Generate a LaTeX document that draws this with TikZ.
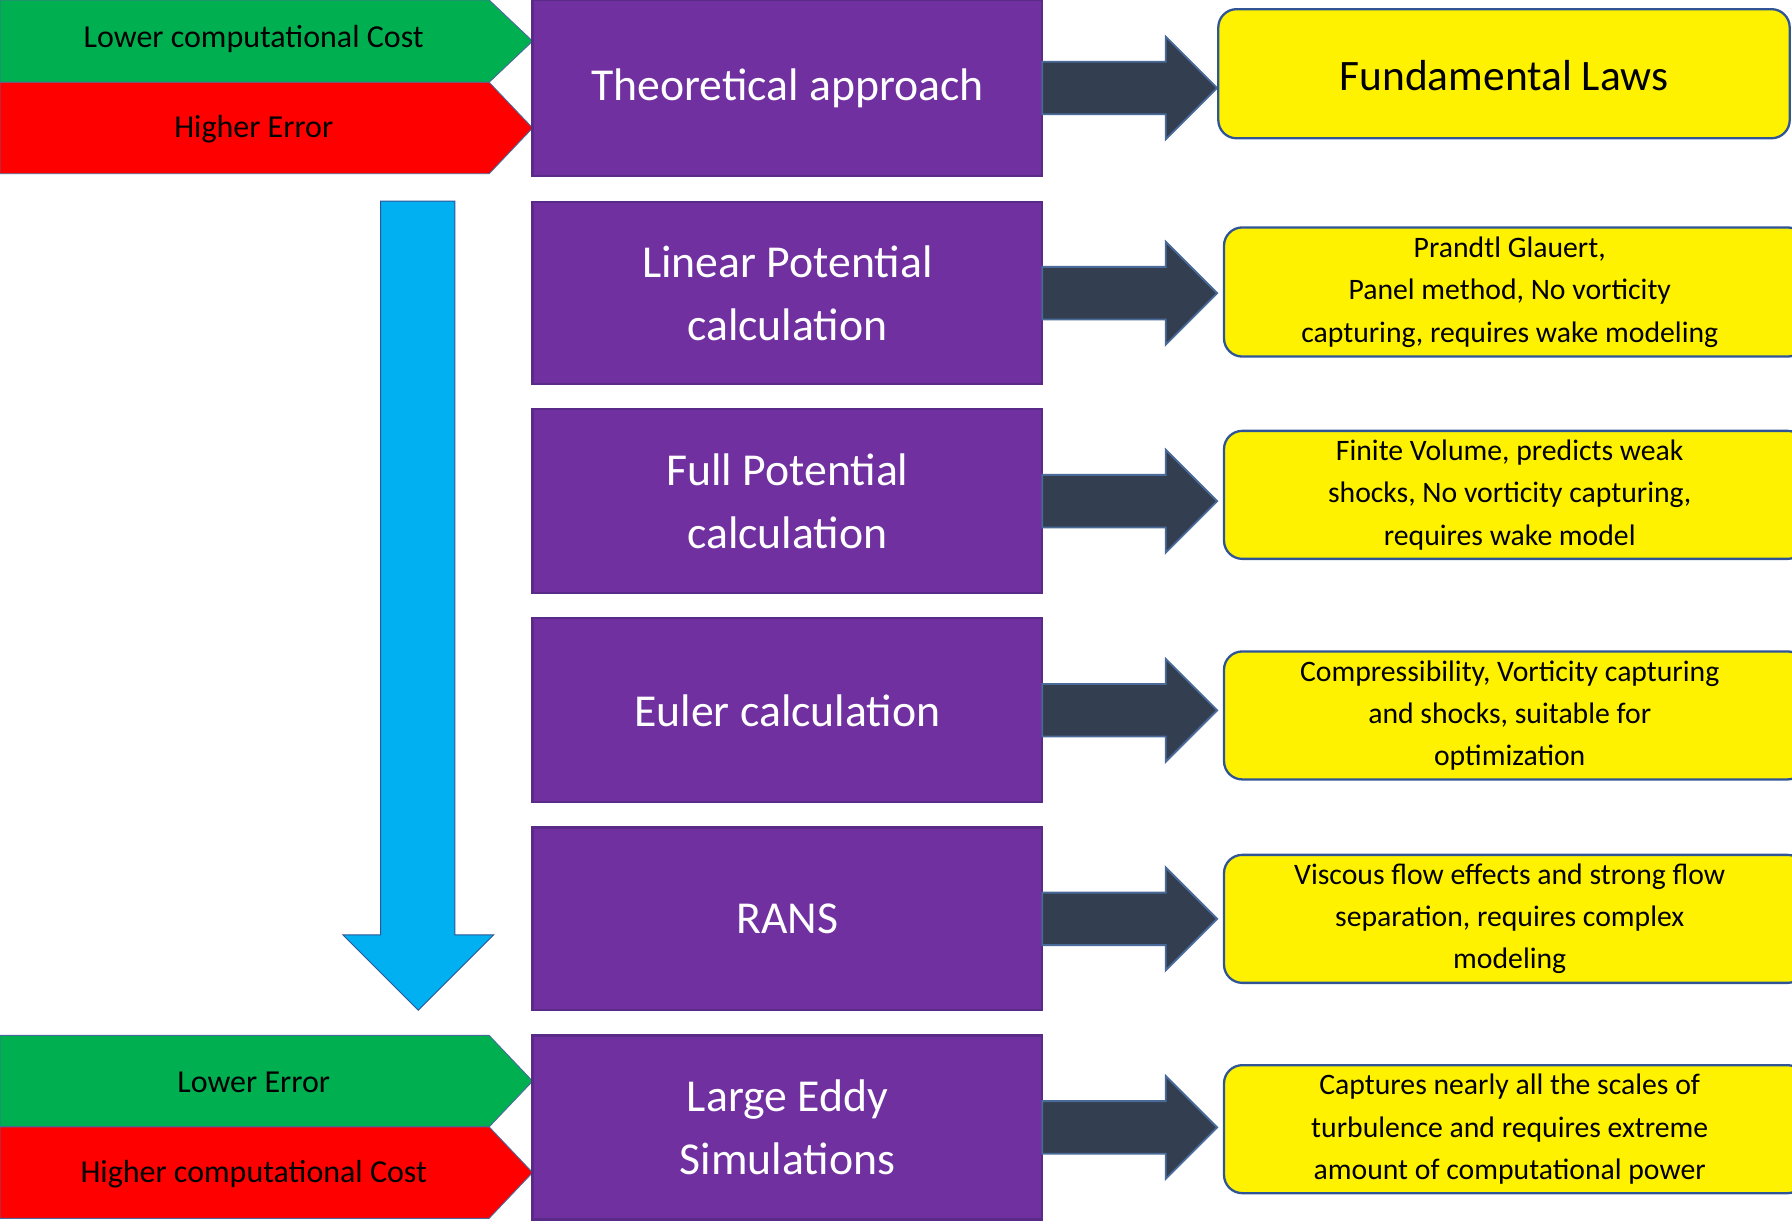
\documentclass[tikz,border=0pt]{standalone}
\usepackage{fontspec}
\setmainfont{Carlito}
\begin{document}
\begin{tikzpicture}[x=0.5pt,y=-0.5pt,
 purp/.style={fill=purp,draw=purpb,line width=1pt},
 yel/.style={fill=yellow,draw=yelb,line width=1pt,rounded corners=8pt},
 darr/.style={fill=darr,draw=darrb,line width=0.8pt},
 ptxt/.style={text=white,font=\fontsize{20}{27.5}\selectfont,align=center},
 ytxt/.style={font=\fontsize{13}{18.5}\selectfont,align=center},
 btxt/.style={font=\fontsize{14}{17}\selectfont}]
\definecolor{purp}{HTML}{7030A0}\definecolor{purpb}{HTML}{5A2A88}
\definecolor{yelb}{HTML}{2F5597}\definecolor{darr}{HTML}{333F50}\definecolor{darrb}{HTML}{4A6A9A}
\definecolor{gr}{HTML}{00B050}\definecolor{rd}{HTML}{FF0000}\definecolor{bl}{HTML}{00B0F0}
\useasboundingbox (0,0) rectangle (1568,1071);
% banners
\fill[gr,draw=darrb] (0,0)--(428,0)--(466,36)--(428,72)--(0,72)--cycle;
\fill[rd,draw=darrb] (0,72)--(428,72)--(466,112)--(428,152)--(0,152)--cycle;
\fill[gr,draw=darrb] (0,906)--(428,906)--(466,946)--(428,986)--(0,986)--cycle;
\fill[rd,draw=darrb] (0,986)--(428,986)--(466,1026)--(428,1066)--(0,1066)--cycle;
\node[btxt] (t1) at (222,34) {Lower computational Cost};
\node[btxt] (t2) at (222,113) {Higher Error};
\node[btxt] (t3) at (222,947) {Lower Error};
\node[btxt] (t4) at (222,1027) {Higher computational Cost};
% blue arrow
\fill[bl,draw=yelb] (333,176)--(398,176)--(398,818)--(432,818)--(366,884)--(300,818)--(333,818)--cycle;
% rows
\foreach \n/\ya/\yb/\pt in {
 a/0/154/{Theoretical approach},
 b/177/336/{Linear Potential\\calculation},
 c/358/519/{Full Potential\\calculation},
 d/541/702/{Euler calculation},
 e/724/884/{RANS},
 f/906/1067/{Large Eddy\\Simulations}}{
 \draw[purp] (466,\ya) rectangle (912,\yb);
 \node[ptxt] (p\n) at (689,{(\ya+\yb)/2}) {\pt};
 \pgfmathsetmacro\c{(\ya+\yb)/2}
 \draw[darr] (912,\c-23)--(1020,\c-23)--(1020,\c-45)--(1065,\c)--(1020,\c+45)--(1020,\c+23)--(912,\c+23)--cycle;
}
\draw[yel] (1066,8) rectangle (1566,121);
\node[font=\fontsize{19}{22}\selectfont] (ya) at (1316,66) {Fundamental Laws};
\foreach \n/\ya/\yb/\tx in {
 b/199/312/{Prandtl Glauert,\\Panel method, No vorticity\\capturing, requires wake modeling},
 c/377/489/{Finite Volume, predicts weak\\shocks, No vorticity capturing,\\requires wake model},
 d/570/682/{Compressibility, Vorticity capturing\\and shocks, suitable for\\optimization},
 e/748/860/{Viscous flow effects and strong flow\\separation, requires complex\\modeling},
 f/932/1044/{Captures nearly all the scales of\\turbulence and requires extreme\\amount of computational power}}{
 \draw[yel] (1071,\ya) rectangle (1580,\yb);
 \node[ytxt] (y\n) at (1321,{(\ya+\yb)/2}) {\tx};
}
\end{tikzpicture}
\end{document}
